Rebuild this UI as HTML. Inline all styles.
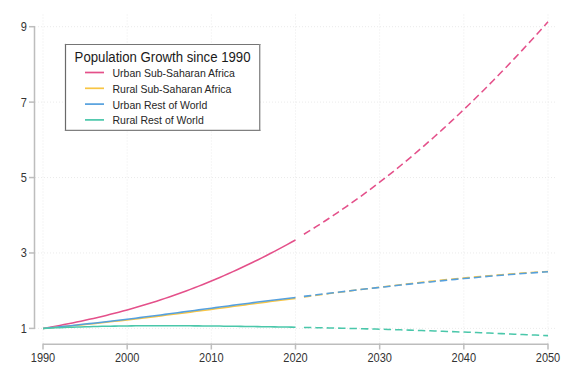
<!DOCTYPE html>
<html><head><meta charset="utf-8"><style>
html,body{margin:0;padding:0;background:#fff;width:570px;height:380px;overflow:hidden}
svg{display:block}
text{font-family:"Liberation Sans",sans-serif}
</style></head><body>
<svg width="570" height="380" viewBox="0 0 570 380">
<rect width="570" height="380" fill="#fff"/>
<g stroke="#ebebeb" stroke-width="1" stroke-dasharray="1 2" fill="none">
<line x1="35" x2="556" y1="328.40" y2="328.40" />
<line x1="35" x2="556" y1="252.97" y2="252.97" />
<line x1="35" x2="556" y1="177.55" y2="177.55" />
<line x1="35" x2="556" y1="102.12" y2="102.12" />
<line x1="35" x2="556" y1="26.70" y2="26.70" />
<line x1="43.00" x2="43.00" y1="14.5" y2="344" />
<line x1="127.17" x2="127.17" y1="14.5" y2="344" />
<line x1="211.33" x2="211.33" y1="14.5" y2="344" />
<line x1="295.50" x2="295.50" y1="14.5" y2="344" />
<line x1="379.67" x2="379.67" y1="14.5" y2="344" />
<line x1="463.83" x2="463.83" y1="14.5" y2="344" />
<line x1="548.00" x2="548.00" y1="14.5" y2="344" />
</g>
<g stroke="#bdbdbd" stroke-width="1.5" fill="none">
<line x1="34.5" x2="34.5" y1="26.70" y2="328.40" />
<line x1="43.0" x2="548.0" y1="344.2" y2="344.2" />
<line x1="29" x2="35" y1="328.40" y2="328.40" />
<line x1="29" x2="35" y1="252.97" y2="252.97" />
<line x1="29" x2="35" y1="177.55" y2="177.55" />
<line x1="29" x2="35" y1="102.12" y2="102.12" />
<line x1="29" x2="35" y1="26.70" y2="26.70" />
<line x1="43.00" x2="43.00" y1="343.5" y2="349.5" />
<line x1="127.17" x2="127.17" y1="343.5" y2="349.5" />
<line x1="211.33" x2="211.33" y1="343.5" y2="349.5" />
<line x1="295.50" x2="295.50" y1="343.5" y2="349.5" />
<line x1="379.67" x2="379.67" y1="343.5" y2="349.5" />
<line x1="463.83" x2="463.83" y1="343.5" y2="349.5" />
<line x1="548.00" x2="548.00" y1="343.5" y2="349.5" />
</g>
<g font-size="11px" fill="#333">
<text transform="translate(26.90,332.90) scale(1,1.08)" text-anchor="end" >1</text>
<text transform="translate(26.90,257.47) scale(1,1.08)" text-anchor="end" >3</text>
<text transform="translate(26.90,182.05) scale(1,1.08)" text-anchor="end" >5</text>
<text transform="translate(26.90,106.62) scale(1,1.08)" text-anchor="end" >7</text>
<text transform="translate(26.90,31.20) scale(1,1.08)" text-anchor="end" >9</text>
<text transform="translate(43.00,361.80) scale(1,1.08)" text-anchor="middle" >1990</text>
<text transform="translate(127.17,361.80) scale(1,1.08)" text-anchor="middle" >2000</text>
<text transform="translate(211.33,361.80) scale(1,1.08)" text-anchor="middle" >2010</text>
<text transform="translate(295.50,361.80) scale(1,1.08)" text-anchor="middle" >2020</text>
<text transform="translate(379.67,361.80) scale(1,1.08)" text-anchor="middle" >2030</text>
<text transform="translate(463.83,361.80) scale(1,1.08)" text-anchor="middle" >2040</text>
<text transform="translate(548.00,361.80) scale(1,1.08)" text-anchor="middle" >2050</text>
</g>
<g fill="none" stroke-width="1.55" stroke-linejoin="round">
<path d="M43.00,328.40 L47.21,327.68 L51.42,326.94 L55.62,326.17 L59.83,325.39 L64.04,324.59 L68.25,323.77 L72.46,322.93 L76.67,322.07 L80.88,321.18 L85.08,320.28 L89.29,319.35 L93.50,318.40 L97.71,317.42 L101.92,316.42 L106.12,315.40 L110.33,314.36 L114.54,313.29 L118.75,312.19 L122.96,311.07 L127.17,309.92 L131.38,308.75 L135.58,307.55 L139.79,306.32 L144.00,305.07 L148.21,303.78 L152.42,302.47 L156.62,301.14 L160.83,299.77 L165.04,298.37 L169.25,296.95 L173.46,295.49 L177.67,294.01 L181.88,292.49 L186.08,290.95 L190.29,289.37 L194.50,287.77 L198.71,286.13 L202.92,284.46 L207.12,282.76 L211.33,281.03 L215.54,279.27 L219.75,277.48 L223.96,275.65 L228.17,273.80 L232.38,271.91 L236.58,269.99 L240.79,268.04 L245.00,266.06 L249.21,264.05 L253.42,262.00 L257.62,259.93 L261.83,257.83 L266.04,255.69 L270.25,253.53 L274.46,251.34 L278.67,249.12 L282.88,246.87 L287.08,244.59 L291.29,242.29 L295.50,239.96" stroke="#e4508a" />
<path d="M303.92,234.25 L308.12,231.67 L312.33,229.07 L316.54,226.42 L320.75,223.74 L324.96,221.02 L329.17,218.26 L333.38,215.46 L337.58,212.63 L341.79,209.75 L346.00,206.84 L350.21,203.90 L354.42,200.91 L358.62,197.88 L362.83,194.82 L367.04,191.71 L371.25,188.57 L375.46,185.39 L379.67,182.17 L383.88,178.91 L388.08,175.61 L392.29,172.27 L396.50,168.90 L400.71,165.48 L404.92,162.02 L409.12,158.53 L413.33,154.99 L417.54,151.42 L421.75,147.80 L425.96,144.15 L430.17,140.46 L434.38,136.73 L438.58,132.96 L442.79,129.15 L447.00,125.30 L451.21,121.41 L455.42,117.49 L459.62,113.53 L463.83,109.52 L468.04,105.48 L472.25,101.41 L476.46,97.29 L480.67,93.14 L484.88,88.95 L489.08,84.72 L493.29,80.46 L497.50,76.16 L501.71,71.82 L505.92,67.45 L510.12,63.05 L514.33,58.60 L518.54,54.13 L522.75,49.62 L526.96,45.07 L531.17,40.49 L535.38,35.88 L539.58,31.23 L543.79,26.56 L548.00,21.85" stroke="#e4508a" stroke-dasharray="7.4 4" />
<path d="M43.00,328.40 L47.21,328.04 L51.42,327.67 L55.62,327.29 L59.83,326.91 L64.04,326.52 L68.25,326.12 L72.46,325.72 L76.67,325.31 L80.88,324.89 L85.08,324.47 L89.29,324.04 L93.50,323.61 L97.71,323.17 L101.92,322.72 L106.12,322.27 L110.33,321.81 L114.54,321.34 L118.75,320.87 L122.96,320.40 L127.17,319.91 L131.38,319.43 L135.58,318.93 L139.79,318.44 L144.00,317.93 L148.21,317.43 L152.42,316.91 L156.62,316.40 L160.83,315.88 L165.04,315.35 L169.25,314.82 L173.46,314.29 L177.67,313.75 L181.88,313.21 L186.08,312.67 L190.29,312.12 L194.50,311.57 L198.71,311.02 L202.92,310.47 L207.12,309.91 L211.33,309.36 L215.54,308.80 L219.75,308.24 L223.96,307.68 L228.17,307.12 L232.38,306.56 L236.58,306.00 L240.79,305.44 L245.00,304.88 L249.21,304.33 L253.42,303.77 L257.62,303.22 L261.83,302.67 L266.04,302.12 L270.25,301.58 L274.46,301.04 L278.67,300.51 L282.88,299.98 L287.08,299.45 L291.29,298.93 L295.50,298.42" stroke="#f8c544" />
<path d="M303.92,296.96 L308.12,296.40 L312.33,295.83 L316.54,295.27 L320.75,294.71 L324.96,294.15 L329.17,293.60 L333.38,293.04 L337.58,292.50 L341.79,291.95 L346.00,291.41 L350.21,290.87 L354.42,290.33 L358.62,289.80 L362.83,289.27 L367.04,288.74 L371.25,288.22 L375.46,287.70 L379.67,287.19 L383.88,286.68 L388.08,286.17 L392.29,285.67 L396.50,285.18 L400.71,284.69 L404.92,284.20 L409.12,283.72 L413.33,283.24 L417.54,282.77 L421.75,282.31 L425.96,281.85 L430.17,281.39 L434.38,280.95 L438.58,280.50 L442.79,280.07 L447.00,279.64 L451.21,279.21 L455.42,278.79 L459.62,278.38 L463.83,277.98 L468.04,277.58 L472.25,277.19 L476.46,276.80 L480.67,276.43 L484.88,276.06 L489.08,275.69 L493.29,275.34 L497.50,274.99 L501.71,274.65 L505.92,274.31 L510.12,273.99 L514.33,273.67 L518.54,273.36 L522.75,273.06 L526.96,272.76 L531.17,272.47 L535.38,272.20 L539.58,271.93 L543.79,271.66 L548.00,271.41" stroke="#f8c544" stroke-dasharray="7.4 4" />
<path d="M43.00,328.40 L47.21,328.00 L51.42,327.59 L55.62,327.18 L59.83,326.76 L64.04,326.33 L68.25,325.90 L72.46,325.46 L76.67,325.01 L80.88,324.56 L85.08,324.10 L89.29,323.64 L93.50,323.17 L97.71,322.69 L101.92,322.21 L106.12,321.72 L110.33,321.23 L114.54,320.73 L118.75,320.22 L122.96,319.71 L127.17,319.20 L131.38,318.68 L135.58,318.15 L139.79,317.63 L144.00,317.09 L148.21,316.56 L152.42,316.01 L156.62,315.47 L160.83,314.92 L165.04,314.37 L169.25,313.82 L173.46,313.26 L177.67,312.70 L181.88,312.14 L186.08,311.58 L190.29,311.02 L194.50,310.45 L198.71,309.88 L202.92,309.32 L207.12,308.75 L211.33,308.19 L215.54,307.62 L219.75,307.06 L223.96,306.49 L228.17,305.93 L232.38,305.37 L236.58,304.82 L240.79,304.27 L245.00,303.72 L249.21,303.17 L253.42,302.63 L257.62,302.10 L261.83,301.57 L266.04,301.04 L270.25,300.53 L274.46,300.02 L278.67,299.51 L282.88,299.02 L287.08,298.53 L291.29,298.06 L295.50,297.59" stroke="#55a0de" />
<path d="M303.92,296.38 L308.12,295.86 L312.33,295.35 L316.54,294.83 L320.75,294.32 L324.96,293.81 L329.17,293.30 L333.38,292.79 L337.58,292.29 L341.79,291.79 L346.00,291.29 L350.21,290.79 L354.42,290.29 L358.62,289.80 L362.83,289.31 L367.04,288.82 L371.25,288.34 L375.46,287.86 L379.67,287.38 L383.88,286.90 L388.08,286.43 L392.29,285.96 L396.50,285.50 L400.71,285.03 L404.92,284.58 L409.12,284.12 L413.33,283.67 L417.54,283.22 L421.75,282.78 L425.96,282.34 L430.17,281.91 L434.38,281.47 L438.58,281.05 L442.79,280.63 L447.00,280.21 L451.21,279.80 L455.42,279.39 L459.62,278.98 L463.83,278.58 L468.04,278.19 L472.25,277.80 L476.46,277.42 L480.67,277.04 L484.88,276.66 L489.08,276.30 L493.29,275.93 L497.50,275.57 L501.71,275.22 L505.92,274.88 L510.12,274.54 L514.33,274.20 L518.54,273.87 L522.75,273.55 L526.96,273.23 L531.17,272.92 L535.38,272.61 L539.58,272.31 L543.79,272.02 L548.00,271.73" stroke="#55a0de" stroke-dasharray="7.4 4" />
<path d="M43.00,328.40 L47.21,328.20 L51.42,328.01 L55.62,327.82 L59.83,327.65 L64.04,327.48 L68.25,327.32 L72.46,327.17 L76.67,327.03 L80.88,326.90 L85.08,326.77 L89.29,326.65 L93.50,326.54 L97.71,326.44 L101.92,326.35 L106.12,326.26 L110.33,326.18 L114.54,326.11 L118.75,326.04 L122.96,325.98 L127.17,325.93 L131.38,325.88 L135.58,325.84 L139.79,325.81 L144.00,325.78 L148.21,325.76 L152.42,325.74 L156.62,325.73 L160.83,325.73 L165.04,325.73 L169.25,325.73 L173.46,325.74 L177.67,325.75 L181.88,325.77 L186.08,325.79 L190.29,325.82 L194.50,325.85 L198.71,325.88 L202.92,325.92 L207.12,325.96 L211.33,326.00 L215.54,326.05 L219.75,326.10 L223.96,326.15 L228.17,326.20 L232.38,326.26 L236.58,326.31 L240.79,326.37 L245.00,326.43 L249.21,326.49 L253.42,326.55 L257.62,326.62 L261.83,326.68 L266.04,326.74 L270.25,326.81 L274.46,326.87 L278.67,326.94 L282.88,327.00 L287.08,327.07 L291.29,327.13 L295.50,327.19" stroke="#4ac7aa" />
<path d="M303.92,327.43 L308.12,327.51 L312.33,327.59 L316.54,327.67 L320.75,327.75 L324.96,327.84 L329.17,327.93 L333.38,328.02 L337.58,328.12 L341.79,328.22 L346.00,328.32 L350.21,328.42 L354.42,328.53 L358.62,328.63 L362.83,328.75 L367.04,328.86 L371.25,328.97 L375.46,329.09 L379.67,329.21 L383.88,329.33 L388.08,329.46 L392.29,329.59 L396.50,329.72 L400.71,329.85 L404.92,329.98 L409.12,330.12 L413.33,330.26 L417.54,330.40 L421.75,330.54 L425.96,330.68 L430.17,330.83 L434.38,330.98 L438.58,331.13 L442.79,331.28 L447.00,331.44 L451.21,331.59 L455.42,331.75 L459.62,331.91 L463.83,332.08 L468.04,332.24 L472.25,332.40 L476.46,332.57 L480.67,332.74 L484.88,332.91 L489.08,333.08 L493.29,333.26 L497.50,333.43 L501.71,333.61 L505.92,333.79 L510.12,333.97 L514.33,334.15 L518.54,334.33 L522.75,334.51 L526.96,334.70 L531.17,334.88 L535.38,335.07 L539.58,335.26 L543.79,335.45 L548.00,335.64" stroke="#4ac7aa" stroke-dasharray="7.4 4" />
</g>
<rect x="65.5" y="44.5" width="194.2" height="85.9" fill="#fff"/>
<g fill="none"><line x1="65.5" y1="43.9" x2="65.5" y2="131" stroke="#6a6a6a" stroke-width="1.2"/><line x1="64.9" y1="44.5" x2="260.4" y2="44.5" stroke="#757575" stroke-width="1.2"/><line x1="259.7" y1="43.9" x2="259.7" y2="131" stroke="#8c8c8c" stroke-width="1.4"/><line x1="64.9" y1="130.4" x2="260.4" y2="130.4" stroke="#808080" stroke-width="1.3"/></g>
<text transform="translate(74.60,61.80) scale(1,1.08)" text-anchor="start" font-size="13.2px" fill="#1a1a1a">Population Growth since 1990</text>
<line x1="85" x2="104" y1="72.50" y2="72.50" stroke="#e4508a" stroke-width="1.7"/>
<text transform="translate(112.50,76.90) scale(1,1.08)" text-anchor="start" font-size="10.5px" fill="#262626">Urban Sub-Saharan Africa</text>
<line x1="85" x2="104" y1="88.30" y2="88.30" stroke="#f8c544" stroke-width="1.7"/>
<text transform="translate(112.50,92.70) scale(1,1.08)" text-anchor="start" font-size="10.5px" fill="#262626">Rural Sub-Saharan Africa</text>
<line x1="85" x2="104" y1="104.10" y2="104.10" stroke="#55a0de" stroke-width="1.7"/>
<text transform="translate(112.50,108.50) scale(1,1.08)" text-anchor="start" font-size="10.5px" fill="#262626">Urban Rest of World</text>
<line x1="85" x2="104" y1="119.90" y2="119.90" stroke="#4ac7aa" stroke-width="1.7"/>
<text transform="translate(112.50,124.30) scale(1,1.08)" text-anchor="start" font-size="10.5px" fill="#262626">Rural Rest of World</text>
</svg>
</body></html>
